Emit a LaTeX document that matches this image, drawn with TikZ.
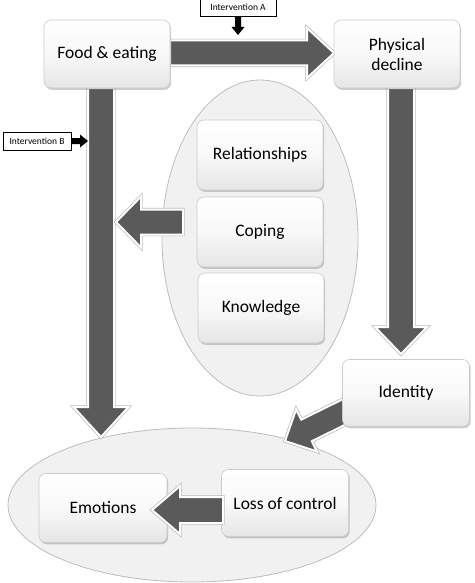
\documentclass[tikz,border=0pt]{standalone}
\usepackage{fontspec}
\setmainfont{Carlito}
\usetikzlibrary{calc,shapes.geometric,shadows}
\definecolor{arrfill}{HTML}{5A5A5A}
\definecolor{ellfill}{HTML}{F1F1F1}
\definecolor{ellline}{HTML}{BDBDBD}
\tikzset{
  box/.style={rectangle, rounded corners=7pt, draw=gray!40, line width=0.6pt,
    top color=white, bottom color=gray!20, middle color=white!95!gray,
    drop shadow={opacity=0.4, shadow xshift=1.2pt, shadow yshift=-1.8pt},
    font=\fontsize{17.5}{20}\selectfont, align=center, inner sep=2pt},
  ell/.style={ellipse, fill=ellfill, draw=ellline, line width=0.8pt, inner sep=0pt},
  intbox/.style={rectangle, draw=black, fill=white, line width=0.6pt,
    font=\fontsize{9.5}{11}\selectfont, inner sep=1pt},
  bigarr/.style={fill=arrfill, draw=white, line width=2pt, line join=miter,
    preaction={draw=gray!55, line width=3.4pt}},
  smallarr/.style={fill=black, draw=none},
}
% #1 style, #2 start, #3 end, #4 shaft half width, #5 head half width, #6 head length
\newcommand\blockarr[6]{%
  \path[#1] let \p1=#2, \p2=#3,
    \n1={atan2(\y2-\y1,\x2-\x1)}, \n2={veclen(\x2-\x1,\y2-\y1)} in
    [shift={(\p1)}, rotate=\n1]
    (0pt,-#4pt) -- ({(\n2-#6)*1pt},-#4pt) -- ({(\n2-#6)*1pt},-#5pt)
    -- ({\n2*1pt},0pt) -- ({(\n2-#6)*1pt},#5pt) -- ({(\n2-#6)*1pt},#4pt)
    -- (0pt,#4pt) -- cycle;}
\begin{document}
\begin{tikzpicture}[x=1pt,y=-1pt]
\useasboundingbox (0,0) rectangle (474,583);
% background groups
\node[ell, minimum width=196pt, minimum height=316pt] (ellC) at (260,238) {};
\node[ell, minimum width=368pt, minimum height=154pt] (ellB) at (192,505) {};
% coordinates for arrow ends
\coordinate (ltail) at (101,88);
\coordinate (ltip) at (101,437);
\coordinate (rtail) at (401,88);
\coordinate (rtip) at (401,354);
\coordinate (mtail) at (183,222);
\coordinate (mtip) at (116,222);
\coordinate (dtail) at (348,410);
\coordinate (dtip) at (285,441);
\coordinate (btail) at (223,510);
\coordinate (btip) at (152,510);
\coordinate (atip) at (238,35);
\coordinate (btipB) at (88,141);
% big arrows (behind boxes)
\blockarr{bigarr}{(170,53)}{(334,53)}{12.5}{25}{27}
\blockarr{bigarr}{(ltail)}{(ltip)}{13}{27.5}{30}
\blockarr{bigarr}{(rtail)}{(rtip)}{13}{26}{27}
\blockarr{bigarr}{(mtail)}{(mtip)}{12.5}{25.5}{25}
\blockarr{bigarr}{(dtail)}{(dtip)}{12}{23.5}{24}
% boxes
\node[box, minimum width=126pt, minimum height=68pt] (food) at (107,54) {Food \& eating};
\node[box, minimum width=126pt, minimum height=68pt] (phys) at (397,54) {Physical\\decline};
\node[box, minimum width=126pt, minimum height=70pt] (rel) at (260,155) {Relationships};
\node[box, minimum width=126pt, minimum height=70pt] (cop) at (260,232) {Coping};
\node[box, minimum width=126pt, minimum height=70pt] (know) at (261,308) {Knowledge};
\node[box, minimum width=127pt, minimum height=67pt] (ident) at (406,393) {Identity};
\node[box, minimum width=128pt, minimum height=69pt] (emo) at (103,508) {Emotions};
\node[box, minimum width=127pt, minimum height=67pt] (loss) at (285,503) {Loss of control};
% arrow over boxes
\blockarr{bigarr}{(btail)}{(btip)}{13}{24}{28}
% interventions
\node[intbox, minimum width=76pt, minimum height=19pt] (intA) at (238,7) {Intervention A};
\node[intbox, minimum width=68pt, minimum height=18pt] (intB) at (37,141) {Intervention B};
\blockarr{smallarr}{(intA.south)}{(atip)}{3}{6.5}{8}
\blockarr{smallarr}{(intB.east)}{(btipB)}{3}{6.5}{8}
\end{tikzpicture}
\end{document}
